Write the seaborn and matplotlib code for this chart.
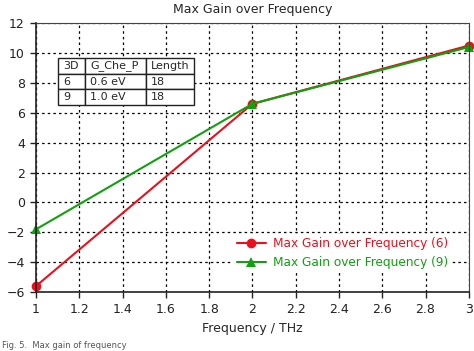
import pandas as pd
import matplotlib
matplotlib.use("Agg")
import matplotlib.pyplot as plt
import seaborn as sns

freq = [1, 2, 3]
gain_6 = [-5.6, 6.6, 10.5]
gain_9 = [-1.8, 6.6, 10.4]
labels = ["Max Gain over Frequency (6)", "Max Gain over Frequency (9)"]
table_rows = [["3D", "G_Che_P", "Length"], ["6", "0.6 eV", "18"], ["9", "1.0 eV", "18"]]
xticks = [1, 1.2, 1.4, 1.6, 1.8, 2, 2.2, 2.4, 2.6, 2.8, 3]
xticklabels = ["1", "1.2", "1.4", "1.6", "1.8", "2", "2.2", "2.4", "2.6", "2.8", "3"]
yticks = [-6, -4, -2, 0, 2, 4, 6, 8, 10, 12]

RED = "#e8101c"
GREEN = "#10a010"

sns.set_style("white")
plt.rcParams["font.family"] = ["DejaVu Sans"]

df = pd.concat([
    pd.DataFrame({"freq": freq, "gain": gain_6, "series": labels[0]}),
    pd.DataFrame({"freq": freq, "gain": gain_9, "series": labels[1]}),
])

fig = plt.figure(figsize=(4.74, 3.51), dpi=100)
ax = fig.add_axes([0.076, 0.168, 0.913, 0.766])

sns.lineplot(data=df, x="freq", y="gain", hue="series", style="series",
             palette=[RED, GREEN], markers=["o", "^"], dashes=False,
             markersize=7, markeredgewidth=0, linewidth=1.5, ax=ax, clip_on=False)

ax.set_xlim(1, 3)
ax.set_ylim(-6, 12)
ax.set_xticks(xticks)
ax.set_xticklabels(xticklabels)
ax.set_yticks(yticks)
ax.grid(True, color="black", linestyle=(0, (2, 2.5)), linewidth=0.9)
ax.set_axisbelow(True)
ax.tick_params(axis="both", direction="out", length=4, width=1, colors="#222222",
               labelsize=9, pad=4, bottom=True, left=True)
for s in ["left", "bottom"]:
    ax.spines[s].set_color("#222222")
    ax.spines[s].set_linewidth(1.2)
for s in ["top", "right"]:
    ax.spines[s].set_color("#444444")
    ax.spines[s].set_linewidth(0.8)

ax.set_title("Max Gain over Frequency", fontsize=9, pad=7)
ax.set_xlabel("Frequency / THz", fontsize=9, labelpad=4)
ax.set_ylabel("")

leg = ax.legend(loc="lower right", bbox_to_anchor=(0.975, 0.05), frameon=True,
                facecolor="white", edgecolor="none", framealpha=1, fancybox=False,
                borderpad=0.3, fontsize=8.7, handlelength=2.4, labelspacing=0.45,
                handletextpad=0.6)
for txt, c in zip(leg.get_texts(), [RED, GREEN]):
    txt.set_color(c)

col_px = [27, 61, 48]
tbl = ax.table(cellText=table_rows, cellLoc="left",
               colWidths=col_px,
               bbox=[0.051, 0.695, 0.314, 0.175])
tbl.set_zorder(5)
tbl.auto_set_font_size(False)
tbl.set_fontsize(8)
for (r, c), cell in tbl.get_celld().items():
    cell.set_edgecolor("#222222")
    cell.set_linewidth(1)
    cell.set_facecolor("white")
    cell.PAD = 5 / col_px[c]

fig.text(0.005, 0.003, "Fig. 5.  Max gain of frequency", fontsize=6, color="#555555",
         va="bottom")

fig.savefig("out.png", dpi=100)
